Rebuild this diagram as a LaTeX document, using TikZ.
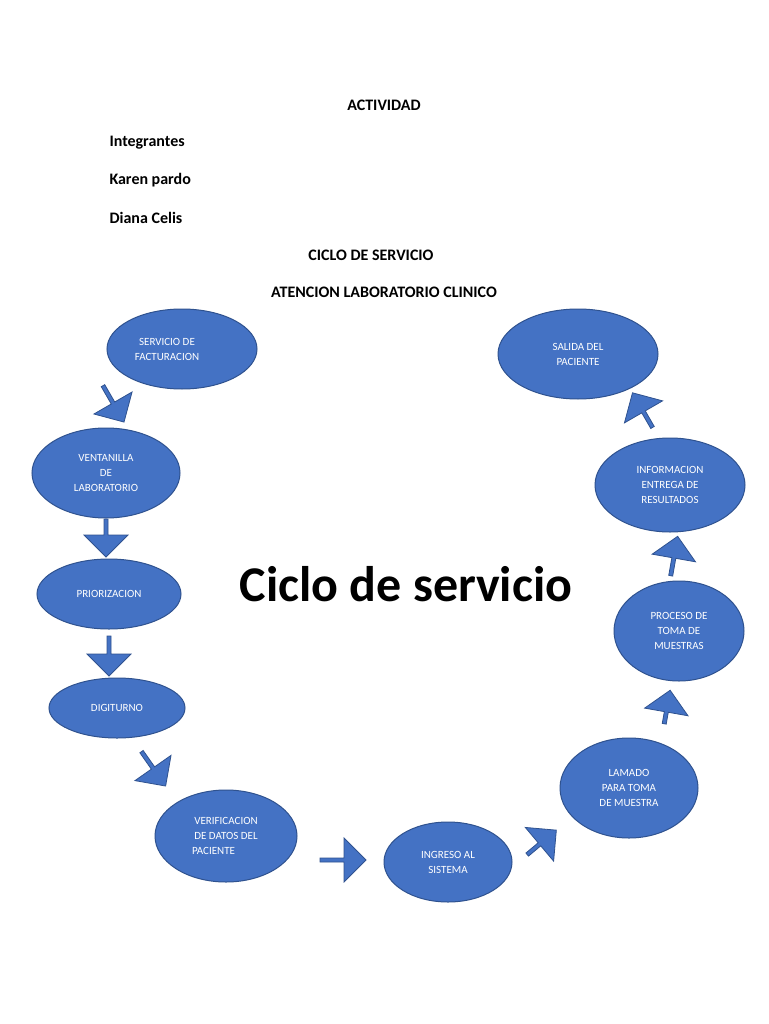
\documentclass[tikz,border=0pt]{standalone}
\usepackage{fontspec}
\setmainfont{Carlito}
\usetikzlibrary{shapes.geometric,shapes.arrows}
\definecolor{bl}{HTML}{4472C4}
\definecolor{bd}{HTML}{2F528F}
\begin{document}
\begin{tikzpicture}[x=1pt,y=-1pt,
 ell/.style={ellipse,draw=bd,line width=1pt,fill=bl,text=white,font=\fontsize{11}{15}\selectfont,align=center,inner sep=0pt},
 barrow/.style={single arrow,draw=bd,fill=bl,line width=0.8pt,minimum width=44pt,minimum height=42pt,single arrow head extend=4pt,inner sep=0pt},
 ttl/.style={font=\bfseries\fontsize{16}{18}\selectfont}]
\useasboundingbox[fill=white] (0,0) rectangle (768,1024);
\node[ttl] (t1) at (384,105) {ACTIVIDAD};
\node[ttl,anchor=west] (t2) at (106,143) {Integrantes};
\node[ttl,anchor=west] (t3) at (106,180) {Karen pardo};
\node[ttl,anchor=west] (t4) at (106,218) {Diana Celis};
\node[ttl] (t5) at (371,255) {CICLO DE SERVICIO};
\node[ttl] (t6) at (384,292) {ATENCION LABORATORIO CLINICO};
\node[font=\bfseries\fontsize{50}{56}\selectfont] (big) at (406,584) {Ciclo de servicio};

\node[ell,minimum width=150pt,minimum height=80pt] (e1) at (182,349) {\hspace*{-30pt}SERVICIO DE\\\hspace*{-30pt}FACTURACION};
\node[ell,minimum width=148pt,minimum height=90pt] (e2) at (106,473) {VENTANILLA\\DE\\LABORATORIO};
\node[ell,minimum width=144pt,minimum height=70pt] (e3) at (109,594) {PRIORIZACION};
\node[ell,minimum width=136pt,minimum height=60pt] (e4) at (117,708) {DIGITURNO};
\node[ell,minimum width=142pt,minimum height=92pt] (e5) at (226,836) {VERIFICACION\\DE DATOS DEL\\\hspace*{-25pt}PACIENTE};
\node[ell,minimum width=128pt,minimum height=80pt] (e6) at (448,862) {INGRESO AL\\SISTEMA};
\node[ell,minimum width=138pt,minimum height=100pt] (e7) at (629,788) {LAMADO\\PARA TOMA\\DE MUESTRA};
\node[ell,minimum width=130pt,minimum height=100pt] (e8) at (679,631) {PROCESO DE\\TOMA DE\\MUESTRAS};
\node[ell,minimum width=150pt,minimum height=94pt] (e9) at (670,485) {INFORMACION\\ENTREGA DE\\RESULTADOS};
\node[ell,minimum width=160pt,minimum height=90pt] (e10) at (578,354) {SALIDA DEL\\PACIENTE};

\node[barrow,rotate=-60] (a1) at (113,403) {};
\node[barrow,rotate=-90,minimum height=38pt] (a2) at (106,537) {};
\node[barrow,rotate=-90,minimum height=40pt] (a3) at (109,655) {};
\node[barrow,rotate=-55] (a4) at (153,768) {};
\node[barrow,rotate=0,minimum height=46pt] (a5) at (342,860) {};
\node[barrow,rotate=40,minimum height=38pt] (a6) at (541,843) {};
\node[barrow,rotate=80,minimum height=34pt] (a7) at (667,708) {};
\node[barrow,rotate=80,minimum height=40pt] (a8) at (674,557) {};
\node[barrow,rotate=120,minimum height=40pt] (a9) at (643,411) {};
\end{tikzpicture}
\end{document}
